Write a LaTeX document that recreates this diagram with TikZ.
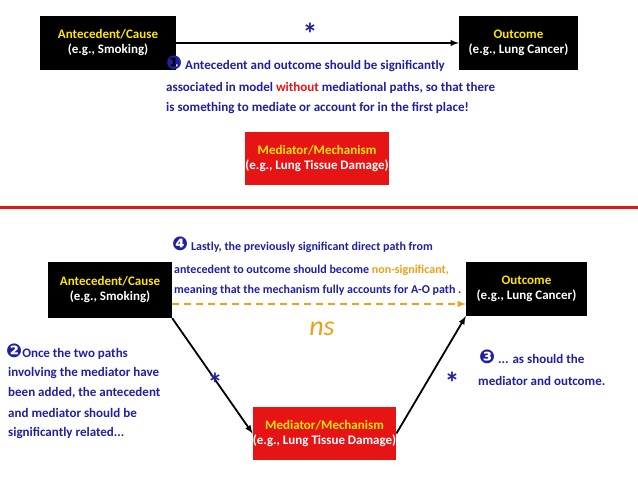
\documentclass[tikz,border=0pt]{standalone}
\usepackage{fontspec}
\setmainfont{Carlito}
\newfontfamily\dejavu{DejaVu Sans}
\newcommand{\circnum}[1]{{\dejavu\fontsize{19}{19}\selectfont #1}}
\definecolor{tblue}{RGB}{32,32,160}
\definecolor{tred}{RGB}{230,20,20}
\definecolor{tyel}{RGB}{255,230,0}
\definecolor{torange}{RGB}{240,160,20}
\begin{document}
\begin{tikzpicture}[x=1pt,y=-1pt,font=\bfseries\fontsize{13}{15}\selectfont,
  bbox/.style={fill=black,minimum width=#1,minimum height=54pt,align=center,inner sep=0pt},
  rbox/.style={fill=tred,minimum width=#1,minimum height=53pt,align=center,inner sep=0pt},
  txt/.style={text=tblue,anchor=west,inner sep=0pt},
  star/.style={text=tblue,font=\bfseries\fontsize{30}{30}\selectfont},
  arr/.style={-latex,line width=1.8pt}]
\useasboundingbox (0,0) rectangle (638,478);
\fill[white] (0,0) rectangle (638,478);
% top
\node[bbox=136pt] (a1) at (108,43) {\textcolor{tyel}{Antecedent/Cause}\\\textcolor{white}{(e.g., Smoking)}};
\node[bbox=119pt] (o1) at (518.5,43) {\textcolor{tyel}{Outcome}\\\textcolor{white}{(e.g., Lung Cancer)}};
\draw[arr] (a1) -- (o1);
\node[star] (s1) at (310,34) {*};
\node[txt] (t1) at (166,64) {\circnum{❶} Antecedent and outcome should be significantly};
\node[txt] (t2) at (166,88) {associated in model \textcolor{tred}{without} mediational paths, so that there};
\node[txt] (t3) at (166,108) {is something to mediate or account for in the first place!};
\node[rbox=142pt] (m1) at (317,159) {\textcolor{tyel}{Mediator/Mechanism}\\\textcolor{white}{(e.g., Lung Tissue Damage)}};
\draw[tred,line width=3pt] (0,208) -- (638,208);
% bottom
\node[bbox=124pt,minimum height=56pt] (a2) at (110,290) {\textcolor{tyel}{Antecedent/Cause}\\\textcolor{white}{(e.g., Smoking)}};
\node[bbox=121pt] (o2) at (526.5,289) {\textcolor{tyel}{Outcome}\\\textcolor{white}{(e.g., Lung Cancer)}};
\node[rbox=141pt] (m2) at (324.5,433.5) {\textcolor{tyel}{Mediator/Mechanism}\\\textcolor{white}{(e.g., Lung Tissue Damage)}};
\draw[-latex,torange,line width=1.8pt,dash pattern=on 7pt off 5pt] (a2.east |- 0,304) -- (o2.west |- 0,304);
\node[text=torange,font=\itshape\fontsize{28}{28}\selectfont] (ns) at (322,329) {ns};
\draw[arr] (a2.south east) -- (m2.west);
\draw[arr] (m2.east) -- (o2.south west);
\node[star] (s2) at (215,384) {*};
\node[star] (s3) at (452,383) {*};
\begin{scope}[font=\bfseries\fontsize{12}{15}\selectfont]
\node[txt] (u1) at (172,245) {\circnum{❹} Lastly, the previously significant direct path from};
\node[txt] (u2) at (174,270) {antecedent to outcome should become \textcolor{torange}{non-significant,}};
\node[txt] (u3) at (174,290) {meaning that the mechanism fully accounts for A-O path .};
\end{scope}
\node[txt] (v1) at (6,352) {\circnum{❷}Once the two paths};
\node[txt] (v2) at (8,373) {involving the mediator have};
\node[txt] (v3) at (8,393) {been added, the antecedent};
\node[txt] (v4) at (8,413) {and mediator should be};
\node[txt] (v5) at (8,433) {significantly related...};
\node[txt] (w1) at (479,357) {\circnum{❸} ... as should the};
\node[txt] (w2) at (478,381) {mediator and outcome.};
\end{tikzpicture}
\end{document}
